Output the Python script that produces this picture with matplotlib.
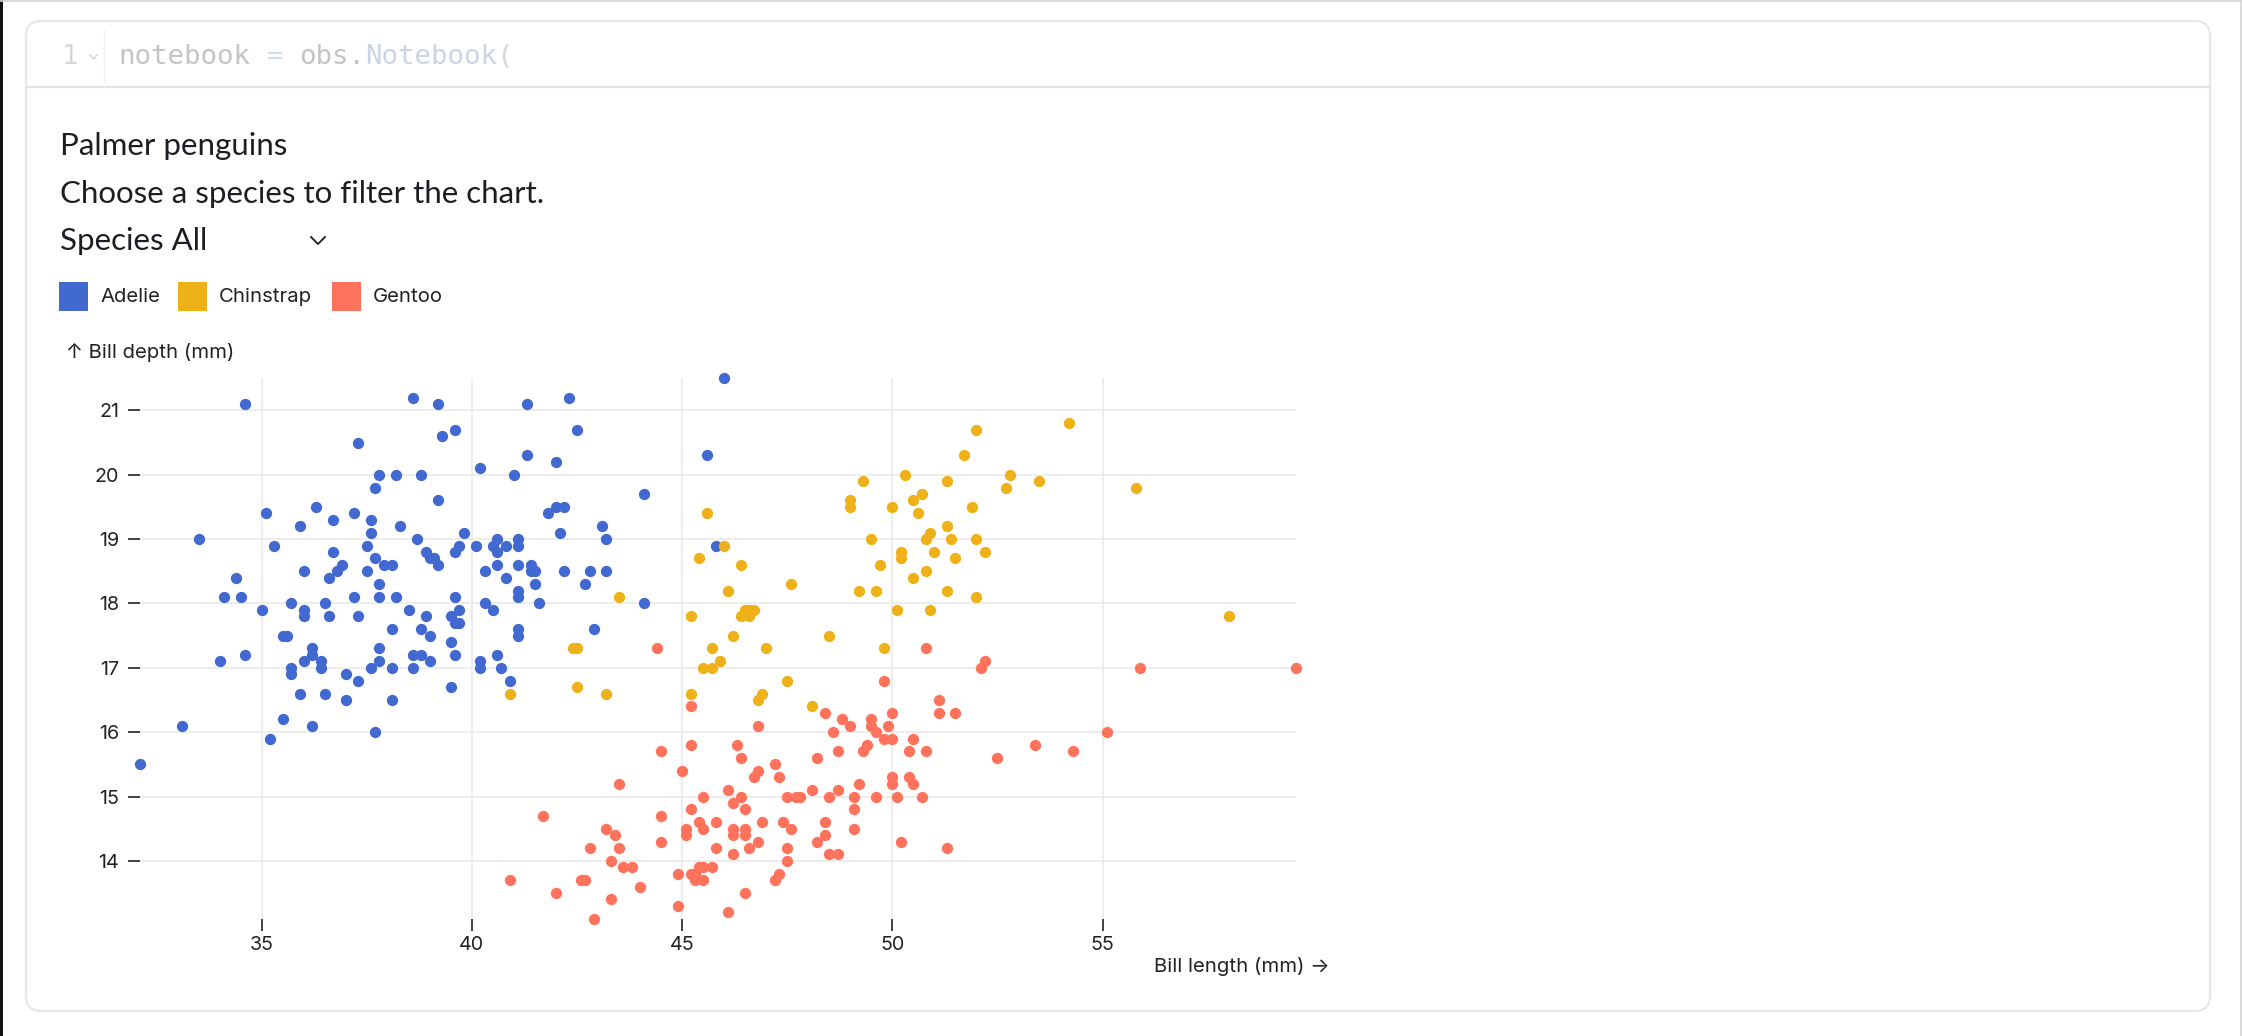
import matplotlib
matplotlib.use("Agg")
import matplotlib.pyplot as plt
import numpy as np
from matplotlib.patches import FancyBboxPatch, Rectangle

# ukuran gambar dalam piksel
W, H = 2242, 1036

# data penguin: (panjang paruh, kedalaman paruh)
adelie_len = [34.6, 38.6, 39.2, 37.3, 39.3, 39.6, 37.8, 38.2, 38.8, 37.7, 40.2, 41.0, 39.2, 35.1,
              36.3, 35.9, 36.7, 37.2, 37.6, 37.6, 38.3, 33.5, 35.3, 36.7, 37.5, 38.7, 39.8, 39.7,
              39.6, 38.9, 39.0, 39.1, 39.2, 37.7, 37.9, 38.1, 40.1, 40.6, 40.5, 40.6, 40.8, 41.1,
              41.1, 40.6, 40.3, 40.8, 41.1, 41.1, 41.1, 36.0, 36.6, 36.8, 36.9, 37.5, 37.8, 37.8,
              38.2, 37.2, 34.4, 34.1, 34.5, 35.0, 35.7, 36.0, 36.0, 36.5, 36.6, 37.3, 38.5, 38.9,
              39.6, 39.7, 39.5, 39.6, 39.7, 38.8, 39.0, 38.1, 39.5, 40.3, 40.5, 41.1, 41.1, 35.5,
              35.6, 37.8, 36.2,
              34.0, 34.6, 35.7, 35.7, 36.0, 36.2, 36.4, 36.4, 35.9, 36.5, 37.0, 37.3, 37.0, 37.6,
              37.8, 38.1, 38.1, 38.6, 38.8, 38.6, 39.0, 39.6, 39.5, 40.2, 40.2, 40.6, 40.7, 40.9,
              33.1, 35.5, 35.2, 36.2, 37.7, 32.1,
              41.3, 42.3, 42.5, 41.3, 42.0, 46.0, 45.6, 44.1, 41.8, 42.0, 42.2, 42.1, 43.1, 43.2,
              41.4, 41.5, 41.4, 42.2, 42.8, 43.2, 41.5, 42.7, 41.6, 44.1, 42.9, 45.8]
adelie_dep = [21.1, 21.2, 21.1, 20.5, 20.6, 20.7, 20.0, 20.0, 20.0, 19.8, 20.1, 20.0, 19.6, 19.4,
              19.5, 19.2, 19.3, 19.4, 19.3, 19.1, 19.2, 19.0, 18.9, 18.8, 18.9, 19.0, 19.1, 18.9,
              18.8, 18.8, 18.7, 18.7, 18.6, 18.7, 18.6, 18.6, 18.9, 19.0, 18.9, 18.8, 18.9, 19.0,
              18.9, 18.6, 18.5, 18.4, 18.6, 18.2, 18.1, 18.5, 18.4, 18.5, 18.6, 18.5, 18.3, 18.1,
              18.1, 18.1, 18.4, 18.1, 18.1, 17.9, 18.0, 17.9, 17.8, 18.0, 17.8, 17.8, 17.9, 17.8,
              18.1, 17.9, 17.8, 17.7, 17.7, 17.6, 17.5, 17.6, 17.4, 18.0, 17.9, 17.6, 17.5, 17.5,
              17.5, 17.3, 17.3,
              17.1, 17.2, 17.0, 16.9, 17.1, 17.2, 17.1, 17.0, 16.6, 16.6, 16.9, 16.8, 16.5, 17.0,
              17.1, 17.0, 16.5, 17.2, 17.2, 17.0, 17.1, 17.2, 16.7, 17.1, 17.0, 17.2, 17.0, 16.8,
              16.1, 16.2, 15.9, 16.1, 16.0, 15.5,
              21.1, 21.2, 20.7, 20.3, 20.2, 21.5, 20.3, 19.7, 19.4, 19.5, 19.5, 19.1, 19.2, 19.0,
              18.6, 18.5, 18.5, 18.5, 18.5, 18.5, 18.3, 18.3, 18.0, 18.0, 17.6, 18.9]

chinstrap_len = [40.9, 43.5, 42.4, 42.5, 45.6, 46.0, 45.4, 46.4, 46.1, 47.6, 45.2, 46.4, 46.5, 46.6,
                 46.7, 46.6, 46.2, 45.7, 47.0, 48.5, 49.8, 49.3, 50.3, 49.0, 49.0, 50.0, 50.5, 50.6,
                 49.5, 50.2, 50.2, 49.7, 50.5, 49.2, 49.6, 50.1,
                 52.0, 54.2, 51.7, 51.3, 52.8, 52.7, 53.5, 55.8, 50.7, 51.9, 51.3, 50.9, 50.8, 51.4,
                 52.0, 51.0, 52.2, 51.5, 50.8, 51.3, 52.0, 50.9, 58.0,
                 45.5, 45.7, 45.9, 42.5, 43.2, 45.2, 46.8, 46.9, 47.5, 48.1]
chinstrap_dep = [16.6, 18.1, 17.3, 17.3, 19.4, 18.9, 18.7, 18.6, 18.2, 18.3, 17.8, 17.8, 17.9, 17.8,
                 17.9, 17.9, 17.5, 17.3, 17.3, 17.5, 17.3, 19.9, 20.0, 19.6, 19.5, 19.5, 19.6, 19.4,
                 19.0, 18.8, 18.7, 18.6, 18.4, 18.2, 18.2, 17.9,
                 20.7, 20.8, 20.3, 19.9, 20.0, 19.8, 19.9, 19.8, 19.7, 19.5, 19.2, 19.1, 19.0, 19.0,
                 19.0, 18.8, 18.8, 18.7, 18.5, 18.2, 18.1, 17.9, 17.8,
                 17.0, 17.0, 17.1, 16.7, 16.6, 16.6, 16.5, 16.6, 16.8, 16.4]

gentoo_len = [44.4, 50.8, 40.9,
              52.2, 52.1, 55.9, 59.6, 51.1, 51.1, 51.5, 55.1, 50.8, 52.5, 53.4, 54.3, 50.7, 51.3,
              49.8, 45.2, 46.8, 48.4, 48.8, 49.0, 48.6, 49.5, 49.5, 49.6, 50.0, 49.9, 49.8, 50.0,
              50.5, 49.4, 49.3, 48.7, 48.2, 50.4, 45.2, 46.3, 46.4, 44.5, 45.0, 46.8, 46.7, 47.2,
              47.3, 50.0, 50.0, 50.4, 50.5, 43.5, 46.1, 45.5, 46.4, 46.2, 47.5, 47.7, 47.8, 48.1,
              48.5, 48.7, 49.2, 49.1, 49.6, 50.1, 41.7, 44.5, 45.2, 46.5, 49.1, 45.4, 45.5, 45.8,
              45.1, 45.1, 46.2, 46.2, 46.5, 46.5, 46.9, 47.4, 47.6, 48.4, 48.4, 48.2, 49.1, 50.2,
              43.2, 43.4, 42.8, 43.5, 44.5, 45.8, 46.8, 46.6, 46.2, 47.5, 47.5, 48.5, 48.7, 43.3,
              43.6, 43.8, 44.9, 45.2, 45.3, 45.4, 45.7, 45.5, 45.3, 45.5, 47.3, 47.2, 42.6, 42.7,
              44.0, 42.0, 43.3, 46.5, 44.9, 46.1, 42.9]
gentoo_dep = [17.3, 17.3, 13.7,
              17.1, 17.0, 17.0, 17.0, 16.5, 16.3, 16.3, 16.0, 15.7, 15.6, 15.8, 15.7, 15.0, 14.2,
              16.8, 16.4, 16.1, 16.3, 16.2, 16.1, 16.0, 16.2, 16.1, 16.0, 16.3, 16.1, 15.9, 15.9,
              15.9, 15.8, 15.7, 15.7, 15.6, 15.7, 15.8, 15.8, 15.6, 15.7, 15.4, 15.4, 15.3, 15.5,
              15.3, 15.3, 15.2, 15.3, 15.2, 15.2, 15.1, 15.0, 15.0, 14.9, 15.0, 15.0, 15.0, 15.1,
              15.0, 15.1, 15.2, 15.0, 15.0, 15.0, 14.7, 14.7, 14.8, 14.8, 14.8, 14.6, 14.5, 14.6,
              14.5, 14.4, 14.5, 14.4, 14.5, 14.4, 14.6, 14.6, 14.5, 14.6, 14.4, 14.3, 14.5, 14.3,
              14.5, 14.4, 14.2, 14.2, 14.3, 14.2, 14.3, 14.2, 14.1, 14.2, 14.0, 14.1, 14.1, 14.0,
              13.9, 13.9, 13.8, 13.8, 13.8, 13.9, 13.9, 13.9, 13.7, 13.7, 13.8, 13.7, 13.7, 13.7,
              13.6, 13.5, 13.4, 13.5, 13.3, 13.2, 13.1]

species = ["Adelie", "Chinstrap", "Gentoo"]
colors = ["#4269d0", "#efb118", "#ff725c"]
xticks = [35, 40, 45, 50, 55]
yticks = [14, 15, 16, 17, 18, 19, 20, 21]

fig = plt.figure(figsize=(W / 100, H / 100), dpi=100)
fig.patch.set_facecolor("white")

# lapisan latar dalam koordinat piksel
bg = fig.add_axes([0, 0, 1, 1])
bg.set_xlim(0, W)
bg.set_ylim(H, 0)
bg.axis("off")

# bingkai gambar
bg.add_patch(Rectangle((0, 0), 2.5, H, color="#111111", lw=0))
bg.plot([0, W], [0.8, 0.8], color="#d4d4d4", lw=1.2)
bg.plot([W - 1.5, W - 1.5], [0, H], color="#d4d4d4", lw=1.2)

# kartu notebook
bg.add_patch(FancyBboxPatch((26, 21), 2184, 990, boxstyle="round,pad=0,rounding_size=15",
                            facecolor="white", edgecolor="#e6e6e6", lw=1.5))
bg.plot([27, 2209], [86.5, 86.5], color="#e4e4e4", lw=1.5)

# baris kode
mono = dict(family="DejaVu Sans Mono", fontsize=19.7, va="center")
bg.text(62, 57, "1", color="#d6d6d6", **mono)
bg.plot([90, 93.5, 97], [55, 59, 55], color="#d0d0d0", lw=1.0)
bg.plot([103.5, 103.5], [30, 82], color="#f0f0f0", lw=1.0)
cw = 16.5
bg.text(118, 57, "notebook", color="#c4c4c4", **mono)
bg.text(118 + 9 * cw, 57, "=", color="#d3dcea", **mono)
bg.text(118 + 11 * cw, 57, "obs.", color="#c4c4c4", **mono)
bg.text(118 + 15 * cw, 57, "Notebook(", color="#ccd4e6", **mono)

# judul dan kontrol
head = dict(family=["Lato", "DejaVu Sans"], fontsize=22.5, color="#1b1e23", va="baseline")
bg.text(60, 155, "Palmer penguins", **head)
bg.text(60, 203, "Choose a species to filter the chart.", **head)
bg.text(60, 250, "Species All", **head)
bg.plot([311, 318, 325], [237, 244, 237], color="#1b1e23", lw=1.3)

# legenda
leg_x = [59, 178, 332]
for sx, name, col in zip(leg_x, species, colors):
    bg.add_patch(Rectangle((sx, 282), 29, 29, facecolor=col, lw=0))
    bg.text(sx + 41, 297, name, family=["Inter", "DejaVu Sans"], fontsize=14.6,
            color="#222222", va="center")

# label sumbu
lab = dict(family=["Inter", "DejaVu Sans"], fontsize=14.6, color="#222222", va="center")
bg.text(66, 353, "\u2191 Bill depth (mm)", ha="left", **lab)
bg.text(1330, 966, "Bill length (mm) \u2192", ha="right", **lab)

# grafik sebar
x0, x1 = 32.1, 59.6
y0, y1 = 13.1, 21.5
left, right = 139.8, 1295.9
top, bottom = 378.2, 918.8
ax = fig.add_axes([left / W, 1 - bottom / H, (right - left) / W, (bottom - top) / H])
ax.set_facecolor("none")

ax.scatter(adelie_len, adelie_dep, s=66, color=colors[0], linewidths=0, clip_on=False, zorder=3)
ax.scatter(chinstrap_len, chinstrap_dep, s=66, color=colors[1], linewidths=0, clip_on=False, zorder=3)
ax.scatter(gentoo_len, gentoo_dep, s=66, color=colors[2], linewidths=0, clip_on=False, zorder=3)

ax.set_xlim(x0, x1)
ax.set_ylim(y0, y1)
ax.set_xticks(xticks)
ax.set_yticks(yticks)
ax.grid(True, color="#e8e8e8", linewidth=1.1)
ax.set_axisbelow(True)
for s in ax.spines.values():
    s.set_visible(False)
ax.tick_params(direction="out", length=8.4, width=1.2, color="#222222",
               labelsize=14.2, labelcolor="#222222")
ax.tick_params(axis="x", pad=4)
ax.tick_params(axis="y", pad=6.5)
for t in ax.get_xticklabels() + ax.get_yticklabels():
    t.set_family(["Inter", "DejaVu Sans"])

fig.savefig("out.png", dpi=100)
